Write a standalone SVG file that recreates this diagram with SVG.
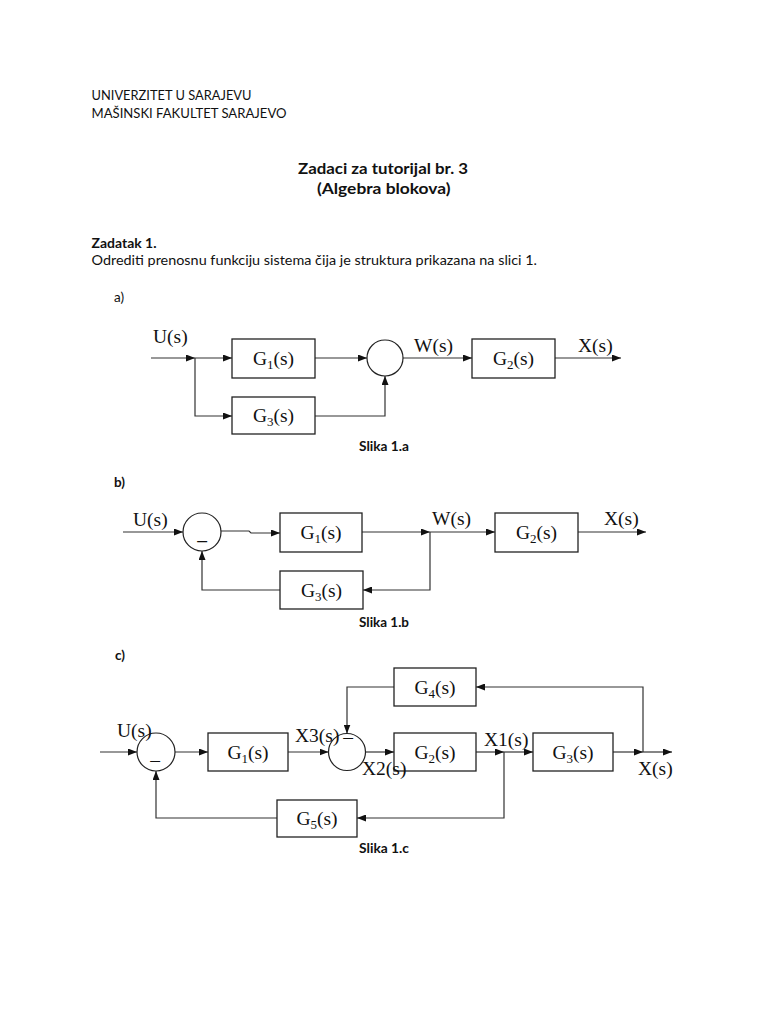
<svg xmlns="http://www.w3.org/2000/svg" width="768" height="1024" viewBox="0 0 768 1024">
<defs>
<marker id="ah" markerUnits="userSpaceOnUse" markerWidth="9" markerHeight="7" refX="9" refY="3.5" orient="auto">
<path d="M0,0 L9,3.5 L0,7 z" fill="#111"/>
</marker>
<style>
.doc{font-family:Lato,"Liberation Sans",Arial,sans-serif;fill:#111}
.b{font-weight:bold}
.lbl{font-family:"Liberation Serif","Times New Roman",serif;font-size:19.5px;fill:#111}
.box{fill:#fff;stroke:#222;stroke-width:1.3}
.sum{fill:#fff;stroke:#222;stroke-width:1.2}
.ln{fill:none;stroke:#333;stroke-width:1.2}
.ar{fill:none;stroke:#333;stroke-width:1.2;marker-end:url(#ah)}
.sub{font-size:13px}
</style>
</defs>
<rect width="768" height="1024" fill="#fff"/>

<g id="header">
<text class="doc" x="91.5" y="100" font-size="13" textLength="160" lengthAdjust="spacingAndGlyphs">UNIVERZITET U SARAJEVU</text>
<text class="doc" x="91.5" y="118" font-size="13" textLength="195" lengthAdjust="spacingAndGlyphs">MAŠINSKI FAKULTET SARAJEVO</text>
<text class="doc b" x="298" y="174" font-size="15.6" textLength="170" lengthAdjust="spacingAndGlyphs">Zadaci za tutorijal br. 3</text>
<text class="doc b" x="317" y="194" font-size="15.6" textLength="133.5" lengthAdjust="spacingAndGlyphs">(Algebra blokova)</text>
<text class="doc b" x="91.5" y="247.5" font-size="13.5" textLength="65" lengthAdjust="spacingAndGlyphs">Zadatak 1.</text>
<text class="doc" x="91.5" y="265" font-size="13.5" textLength="445.5" lengthAdjust="spacingAndGlyphs">Odrediti prenosnu funkciju sistema čija je struktura prikazana na slici 1.</text>
</g>

<!-- Diagram a -->
<g id="a-label"><text class="doc" x="114" y="302" font-size="13.5">a)</text></g>
<g id="a-connectors">
<line class="ar" x1="151" y1="358" x2="195" y2="358"/>
<line class="ar" x1="195" y1="358" x2="232" y2="358"/>
<polyline class="ar" points="195,358 195,416 232,416"/>
<line class="ar" x1="315" y1="358" x2="367" y2="358"/>
<polyline class="ar" points="315,416 385,416 385,376"/>
<line class="ar" x1="403" y1="358" x2="472" y2="358"/>
<line class="ar" x1="555" y1="358" x2="621" y2="358"/>
</g>
<g id="a-G1"><rect class="box" x="232" y="339" width="83" height="39"/><text class="lbl" x="273.5" y="365" text-anchor="middle">G<tspan class="sub" dy="4">1</tspan><tspan dy="-4">(s)</tspan></text></g>
<g id="a-G3"><rect class="box" x="232" y="397" width="83" height="37"/><text class="lbl" x="273.5" y="422" text-anchor="middle">G<tspan class="sub" dy="4">3</tspan><tspan dy="-4">(s)</tspan></text></g>
<g id="a-sum"><circle class="sum" cx="385" cy="358" r="18"/></g>
<g id="a-G2"><rect class="box" x="472" y="339" width="83" height="39"/><text class="lbl" x="513.5" y="365" text-anchor="middle">G<tspan class="sub" dy="4">2</tspan><tspan dy="-4">(s)</tspan></text></g>
<g id="a-signals">
<text class="lbl" x="153" y="343">U(s)</text>
<text class="lbl" x="414" y="352">W(s)</text>
<text class="lbl" x="578" y="352">X(s)</text>
</g>
<g id="a-caption"><text class="doc b" x="359" y="450.5" font-size="13" textLength="50" lengthAdjust="spacingAndGlyphs">Slika 1.a</text></g>

<!-- Diagram b -->
<g id="b-label"><text class="doc b" x="114" y="487" font-size="13.5">b)</text></g>
<g id="b-connectors">
<line class="ar" x1="123" y1="532" x2="183" y2="532"/>
<path class="ar" d="M221,531 H249 L251,533 H280"/>
<line class="ar" x1="362" y1="532" x2="430" y2="532"/>
<line class="ar" x1="430" y1="532" x2="495" y2="532"/>
<line class="ar" x1="578" y1="532" x2="646" y2="532"/>
<polyline class="ar" points="430,532 430,590 363,590"/>
<polyline class="ar" points="280,590 202,590 202,551"/>
</g>
<g id="b-sum"><circle class="sum" cx="202" cy="532" r="19"/><text class="lbl b" x="202" y="546" font-size="16" text-anchor="middle">–</text></g>
<g id="b-G1"><rect class="box" x="280" y="513" width="82" height="39"/><text class="lbl" x="321" y="539" text-anchor="middle">G<tspan class="sub" dy="4">1</tspan><tspan dy="-4">(s)</tspan></text></g>
<g id="b-G3"><rect class="box" x="280" y="571" width="83" height="38"/><text class="lbl" x="321.5" y="597" text-anchor="middle">G<tspan class="sub" dy="4">3</tspan><tspan dy="-4">(s)</tspan></text></g>
<g id="b-G2"><rect class="box" x="495" y="513" width="83" height="39"/><text class="lbl" x="536.5" y="539" text-anchor="middle">G<tspan class="sub" dy="4">2</tspan><tspan dy="-4">(s)</tspan></text></g>
<g id="b-signals">
<text class="lbl" x="133" y="526">U(s)</text>
<text class="lbl" x="432" y="525">W(s)</text>
<text class="lbl" x="604" y="525">X(s)</text>
</g>
<g id="b-caption"><text class="doc b" x="359" y="626.5" font-size="13" textLength="50" lengthAdjust="spacingAndGlyphs">Slika 1.b</text></g>

<!-- Diagram c -->
<g id="c-label"><text class="doc b" x="115" y="660" font-size="13.5">c)</text></g>
<g id="c-connectors">
<line class="ar" x1="100" y1="752" x2="137" y2="752"/>
<line class="ar" x1="175" y1="752" x2="208" y2="752"/>
<line class="ar" x1="288" y1="752" x2="328.5" y2="752"/>
<line class="ar" x1="365.5" y1="752" x2="394" y2="752"/>
<line class="ar" x1="476" y1="752" x2="504" y2="752"/>
<line class="ar" x1="504" y1="752" x2="533" y2="752"/>
<line class="ar" x1="613" y1="752" x2="643" y2="752"/>
<line class="ar" x1="643" y1="752" x2="672" y2="752"/>
<polyline class="ar" points="643,752 643,687 476,687"/>
<polyline class="ar" points="394,687 347,687 347,733.5"/>
<polyline class="ar" points="504,752 504,818 357,818"/>
<polyline class="ar" points="277,818 156,818 156,771"/>
</g>
<g id="c-sum1"><circle class="sum" cx="156" cy="752" r="19"/><text class="lbl" x="155" y="766" font-size="16" text-anchor="middle">–</text></g>
<g id="c-G1"><rect class="box" x="208" y="733" width="80" height="38"/><text class="lbl" x="248" y="759" text-anchor="middle">G<tspan class="sub" dy="4">1</tspan><tspan dy="-4">(s)</tspan></text></g>
<g id="c-sum2"><circle class="sum" cx="347" cy="752" r="18.5"/><text class="lbl" x="348" y="743" font-size="16" text-anchor="middle">–</text></g>
<g id="c-G4"><rect class="box" x="394" y="668" width="82" height="38"/><text class="lbl" x="435" y="694" text-anchor="middle">G<tspan class="sub" dy="4">4</tspan><tspan dy="-4">(s)</tspan></text></g>
<g id="c-G2"><rect class="box" x="394" y="733" width="82" height="38"/><text class="lbl" x="435" y="759" text-anchor="middle">G<tspan class="sub" dy="4">2</tspan><tspan dy="-4">(s)</tspan></text></g>
<g id="c-G3"><rect class="box" x="533" y="733" width="80" height="38"/><text class="lbl" x="573" y="759" text-anchor="middle">G<tspan class="sub" dy="4">3</tspan><tspan dy="-4">(s)</tspan></text></g>
<g id="c-G5"><rect class="box" x="277" y="800" width="80" height="37"/><text class="lbl" x="317" y="825" text-anchor="middle">G<tspan class="sub" dy="4">5</tspan><tspan dy="-4">(s)</tspan></text></g>
<g id="c-signals">
<text class="lbl" x="117" y="737">U(s)</text>
<text class="lbl" x="295" y="742">X3(s)</text>
<text class="lbl" x="362" y="775">X2(s)</text>
<text class="lbl" x="484" y="746">X1(s)</text>
<text class="lbl" x="638" y="775">X(s)</text>
</g>
<g id="c-caption"><text class="doc b" x="359" y="852.5" font-size="13" textLength="50" lengthAdjust="spacingAndGlyphs">Slika 1.c</text></g>
</svg>
